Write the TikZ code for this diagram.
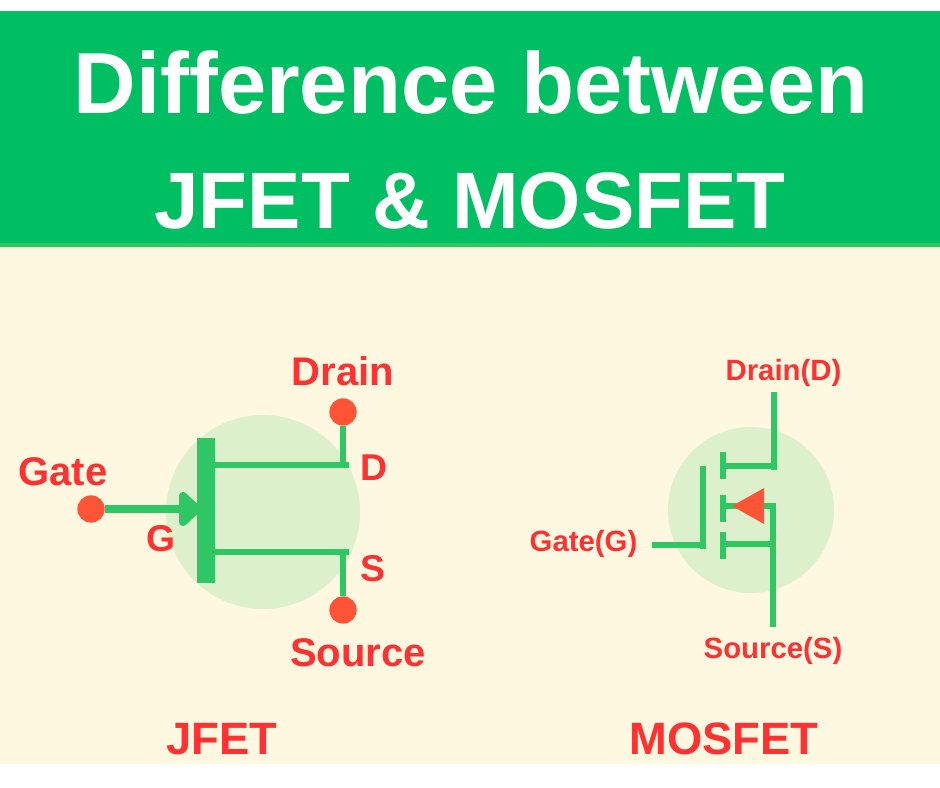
\documentclass[tikz,border=0pt]{standalone}
\usepackage{fontspec}
\setmainfont{Liberation Sans}
\usepackage{xcolor}
\usetikzlibrary{positioning,calc}

\definecolor{bandgreen}{HTML}{00BF63}
\definecolor{wiregreen}{HTML}{2FC764}
\definecolor{panelcream}{HTML}{FFF8E1}
\definecolor{disc}{HTML}{DDF0CC}
\definecolor{labelred}{HTML}{FF3131}
\definecolor{dotred}{HTML}{FF5436}

\tikzset{
    titletext/.style={text=white,font=\fontsize{65}{65}\selectfont\bfseries,inner sep=0pt,anchor=base},
    nametext/.style={text=labelred,font=\fontsize{34}{34}\selectfont\bfseries,inner sep=0pt,anchor=base},
    jfettext/.style={text=labelred,font=\fontsize{30}{30}\selectfont\bfseries,inner sep=0pt,anchor=base},
    lettertext/.style={text=labelred,font=\fontsize{28}{28}\selectfont\bfseries,inner sep=0pt,anchor=base},
    mostext/.style={text=labelred,font=\fontsize{22}{22}\selectfont\bfseries,inner sep=0pt,anchor=base},
    terminal/.style={circle,fill=dotred,inner sep=0pt,minimum size=20.5pt},
    wire/.style={draw=wiregreen,line width=4.8pt},
    thinwire/.style={draw=wiregreen,line width=4.5pt}
}

\begin{document}
\begin{tikzpicture}[x=0.75pt,y=-0.75pt]
    \useasboundingbox (0,0) rectangle (940,788);

    % Backgrounds
    \fill[panelcream] (0,247) rectangle (940,764);
    \fill[wiregreen] (0,240) rectangle (940,247);
    \fill[bandgreen] (0,11) rectangle (940,243);

    % Title
    \node[titletext] (title1) at (471,114) {Difference between};
    \node[titletext,font=\fontsize{60}{60}\selectfont\bfseries] (title2) at (470,229) {JFET \& MOSFET};

    % JFET
    \fill[disc] (263,512) circle (97);
    \fill[wiregreen] (197,438) rectangle (215,583);

    \coordinate (jd1) at (215,465);
    \coordinate (jd2) at (349,465);
    \coordinate (jdt) at (343,465);
    \coordinate (js1) at (215,552);
    \coordinate (js2) at (349,552);
    \coordinate (jst) at (343,552);
    \coordinate (jg) at (197,509);

    \draw[wire,line width=5pt] (jd1) -- (jd2);
    \draw[wire,line width=5pt] (js1) -- (js2);

    \node[terminal] (jdrain) at (343,412) {};
    \node[terminal] (jsource) at (343,610) {};
    \node[terminal] (jgate) at (91,509) {};

    \draw[wire] (jdrain) -- (jdt);
    \draw[wire] (jsource) -- (jst);
    \draw[wire,line width=6pt] (jgate) -- (jg);

    % gate arrow
    \draw[wiregreen,fill=wiregreen,line width=6pt,line join=round] (183,496) -- (197,509) -- (183,522) -- cycle;

    \node[jfettext] (ldrain) at (343,385) {Drain};
    \node[jfettext] (lsource) at (358,666) {Source};
    \node[jfettext] (lgate) at (63,485) {Gate};
    \node[lettertext] (lg) at (161,551) {G};
    \node[lettertext] (ld) at (373.5,480) {D};
    \node[lettertext] (ls) at (373,581) {S};

    % MOSFET
    \fill[disc] (751,510) circle (83);

    \coordinate (mdtop) at (773.5,392);
    \coordinate (mdbot) at (773.5,470);
    \coordinate (mdmid) at (773.5,466);
    \coordinate (mstop) at (773,503);
    \coordinate (msbot) at (773,627);
    \coordinate (msm1) at (773,506);
    \coordinate (msm2) at (773,544);
    \coordinate (mgl) at (652,545);
    \coordinate (mgr) at (703,545);
    \coordinate (mgtop) at (703,466);
    \coordinate (mgbot) at (703,549);

    \draw[thinwire] (mdtop) -- (mdbot);
    \draw[thinwire] (mstop) -- (msbot);
    \draw[thinwire] (mgtop) -- (mgbot);
    \draw[thinwire] (mgl) -- (mgr);

    % channel pieces
    \foreach \ytop/\ybot/\ymid/\yend/\nm in {452/479/466/mdmid/a,495/522/506/msm1/b,532/559/544/msm2/c}{
        \coordinate (bar\nm1) at (723,\ytop);
        \coordinate (bar\nm2) at (723,\ybot);
        \coordinate (bar\nm3) at (723,\ymid);
        \draw[thinwire] (bar\nm1) -- (bar\nm2);
        \draw[thinwire] (bar\nm3) -- (\yend);
    }

    % arrow
    \fill[dotred] (732,506) -- (764,488) -- (764,524) -- cycle;

    \node[mostext] (mdrain) at (783.5,381) {Drain(D)};
    \node[mostext] (mgate) at (583.5,551) {Gate(G)};
    \node[mostext] (msource) at (773,658) {Source(S)};

    % Names
    \node[nametext] (njfet) at (222,754) {JFET};
    \node[nametext] (nmos) at (724,754) {MOSFET};
\end{tikzpicture}
\end{document}
